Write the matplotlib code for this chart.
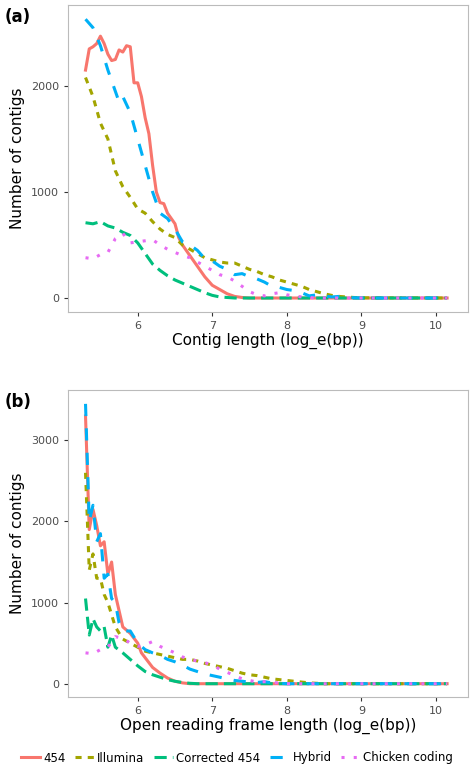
import matplotlib
matplotlib.use("Agg")
import matplotlib.pyplot as plt
from matplotlib.lines import Line2D

names = ["454", "Illumina", "Corrected 454", "Hybrid", "Chicken coding"]
colors = ["#F8766D", "#A3A500", "#00BF7D", "#00B0F6", "#E76BF3"]
styles = ["-", (0, (2, 2)), (0, (4, 2)), (0, (4, 4)), (0, (1, 3))]

# Panel (a): contig length
a_454_x = [5.3,5.35,5.4,5.45,5.5,5.55,5.6,5.65,5.7,5.75,5.8,5.85,5.9,5.95,6.0,6.05,6.1,6.15,6.2,6.25,6.3,6.35,6.4,6.45,6.5,6.55,6.6,6.7,6.8,6.9,7.0,7.1,7.2,7.3,7.4,7.5,10.15]
a_454_y = [2150,2350,2370,2400,2470,2400,2300,2240,2250,2340,2320,2380,2370,2030,2030,1900,1700,1550,1250,1000,900,890,800,750,700,570,500,400,300,200,120,80,40,15,5,0,0]
a_ill_x = [5.3,5.4,5.5,5.6,5.7,5.8,5.9,6.0,6.1,6.2,6.3,6.4,6.5,6.6,6.7,6.8,6.9,7.0,7.1,7.2,7.3,7.4,7.5,7.6,7.7,7.8,7.9,8.0,8.1,8.2,8.3,8.4,8.5,8.6,8.7,8.8,8.9,9.0,10.15]
a_ill_y = [2080,1900,1650,1500,1200,1050,950,840,800,720,650,600,570,500,460,420,380,360,340,330,330,300,270,250,220,200,170,150,130,110,80,60,40,25,15,10,5,2,0]
a_cor_x = [5.3,5.4,5.5,5.6,5.7,5.8,5.9,6.0,6.1,6.2,6.3,6.4,6.5,6.6,6.7,6.8,6.9,7.0,7.1,7.2,7.3,10.15]
a_cor_y = [710,700,720,680,660,620,590,520,420,320,260,210,170,140,110,80,50,25,10,5,0,0]
a_hyb_x = [5.3,5.4,5.5,5.6,5.7,5.75,5.8,5.9,6.0,6.1,6.2,6.3,6.4,6.5,6.6,6.7,6.8,6.9,7.0,7.1,7.2,7.3,7.4,7.5,7.6,7.7,7.8,7.9,8.0,8.1,8.2,8.3,8.4,8.5,8.6,8.7,8.8,9.0,10.15]
a_hyb_y = [2630,2550,2380,2150,1950,1850,1900,1750,1500,1250,1000,800,750,650,530,500,450,370,350,300,270,220,230,200,180,150,110,100,80,70,50,20,30,20,10,15,5,0,0]
a_chk_x = [5.3,5.4,5.5,5.6,5.7,5.8,5.9,6.0,6.1,6.2,6.3,6.4,6.5,6.6,6.7,6.8,6.9,7.0,7.1,7.2,7.3,7.4,7.5,7.6,7.7,7.8,7.9,8.0,8.1,8.2,8.3,8.4,10.15]
a_chk_y = [380,370,410,430,560,610,520,530,540,550,500,460,430,400,380,340,300,260,220,200,160,110,60,30,20,40,50,30,20,10,5,0,0]

# Panel (b): ORF length
b_454_x = [5.3,5.35,5.4,5.45,5.5,5.55,5.6,5.65,5.7,5.75,5.8,5.9,6.0,6.05,6.1,6.2,6.3,6.4,6.5,6.6,6.7,10.15]
b_454_y = [3300,1900,2150,1950,1700,1750,1350,1500,1100,900,700,620,500,380,320,200,130,70,30,10,0,0]
b_ill_x = [5.3,5.35,5.4,5.45,5.5,5.55,5.6,5.65,5.7,5.8,5.9,6.0,6.1,6.2,6.3,6.4,6.5,6.6,6.7,6.8,6.9,7.0,7.1,7.2,7.3,7.4,7.5,7.6,7.7,7.8,7.9,8.0,8.1,8.2,8.3,8.4,8.5,10.15]
b_ill_y = [2600,1400,1600,1300,1300,1100,1000,850,700,550,500,450,400,380,360,340,320,300,300,280,250,230,210,190,160,130,110,100,80,60,50,40,30,20,10,5,0,0]
b_cor_x = [5.3,5.35,5.4,5.45,5.5,5.55,5.6,5.65,5.7,5.8,5.9,6.0,6.1,6.2,6.3,6.4,6.5,6.6,6.7,6.8,10.15]
b_cor_y = [1050,600,800,700,650,700,450,600,450,380,300,220,150,110,80,50,30,15,5,0,0]
b_hyb_x = [5.3,5.35,5.4,5.45,5.5,5.55,5.6,5.65,5.7,5.75,5.8,5.9,6.0,6.1,6.2,6.3,6.4,6.5,6.6,6.7,6.8,6.9,7.0,7.1,7.2,7.3,7.4,7.5,7.6,7.7,7.8,7.9,8.0,10.15]
b_hyb_y = [3450,2000,2200,1750,1850,1300,1350,1050,1000,750,650,650,500,420,380,350,300,270,230,180,150,120,100,80,60,40,30,20,15,25,10,5,0,0]
b_chk_x = [5.3,5.4,5.5,5.6,5.7,5.8,5.9,6.0,6.1,6.2,6.3,6.4,6.5,6.6,6.7,6.8,6.9,7.0,7.1,7.2,7.3,7.4,7.5,7.6,7.7,7.8,7.9,8.0,10.15]
b_chk_y = [380,370,420,450,580,560,500,460,480,520,460,420,380,330,300,280,260,230,180,140,100,60,40,20,25,15,10,0,0]

W, H = 474, 774
fig = plt.figure(figsize=(W/100, H/100), dpi=100)

def panel(bottom_px, top_px, data, ylim, yticks, xlabel, tag):
    ax = fig.add_axes([68/W, 1-bottom_px/H, 400/W, (bottom_px-top_px)/H])
    for (x, y), c, s in zip(data, colors, styles):
        ax.plot(x, y, color=c, linestyle=s, lw=2.2)
    ax.set_xlim(5.065, 10.43)
    ax.set_ylim(*ylim)
    ax.set_xticks([6, 7, 8, 9, 10])
    ax.set_yticks(yticks)
    ax.tick_params(labelsize=8, length=3, color="#333333", labelcolor="#4d4d4d")
    for sp in ax.spines.values():
        sp.set_color("#bbbbbb")
    ax.set_xlabel(xlabel, fontsize=11, labelpad=1)
    ax.set_ylabel("Number of contigs", fontsize=11)
    fig.text(5/W, 1-top_px/H - 3/H, tag, fontsize=12, fontweight="bold", va="top")
    return ax

panel(312, 5, [(a_454_x,a_454_y),(a_ill_x,a_ill_y),(a_cor_x,a_cor_y),(a_hyb_x,a_hyb_y),(a_chk_x,a_chk_y)],
      (-132, 2764), [0, 1000, 2000], "Contig length (log_e(bp))", "(a)")
panel(697, 390, [(b_454_x,b_454_y),(b_ill_x,b_ill_y),(b_cor_x,b_cor_y),(b_hyb_x,b_hyb_y),(b_chk_x,b_chk_y)],
      (-164, 3621), [0, 1000, 2000, 3000], "Open reading frame length (log_e(bp))", "(b)")

handles = [Line2D([], [], color=c, linestyle=s, lw=2.2) for c, s in zip(colors, styles)]
fig.legend(handles, names, loc="center", bbox_to_anchor=(0.5, 1-758/H), ncol=5, frameon=False,
           fontsize=8.5, handlelength=1.6, handletextpad=0.3, columnspacing=0.8)

fig.savefig("out.png", dpi=100)
